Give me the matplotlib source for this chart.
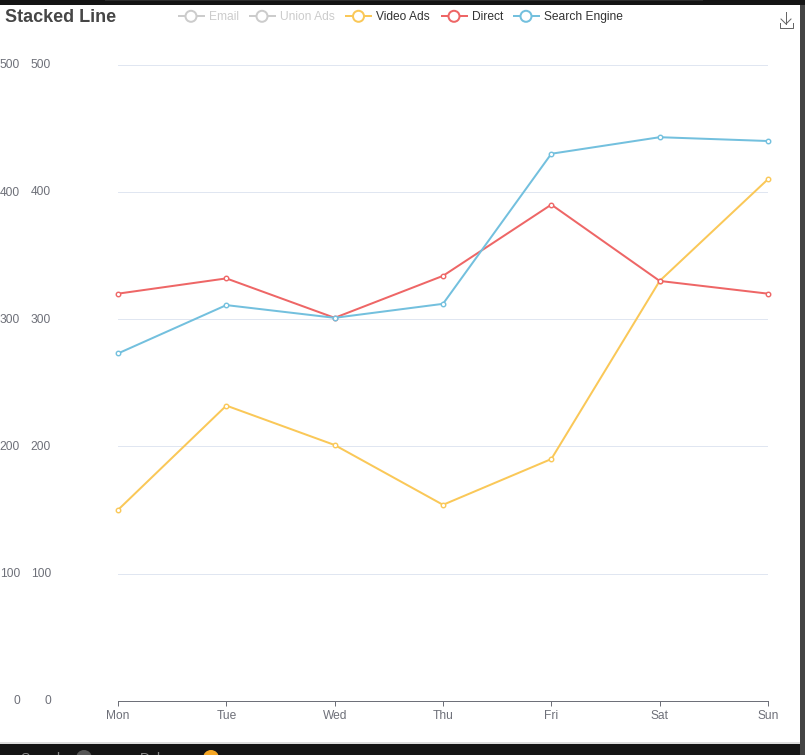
import matplotlib
matplotlib.use("Agg")
import matplotlib.pyplot as plt
from matplotlib.patches import Rectangle, Circle
from matplotlib.transforms import ScaledTranslation

days = ["Mon", "Tue", "Wed", "Thu", "Fri", "Sat", "Sun"]
video_ads = [150, 232, 201, 154, 190, 330, 410]
direct = [320, 332, 301, 334, 390, 330, 320]
search_engine = [273, 311, 301, 312, 430, 443, 440]
y_ticks = [0, 100, 200, 300, 400, 500]

plt.rcParams['font.family'] = ['Liberation Sans', 'DejaVu Sans']

W, H = 805, 755
PX = 0.72  # points per pixel at dpi 100
fig = plt.figure(figsize=(W / 100, H / 100), dpi=100, facecolor='#141414')

# white panel behind the chart
bg = fig.add_axes([0, 0, 1, 1])
bg.set_xlim(0, W)
bg.set_ylim(H, 0)
bg.axis('off')
bg.add_patch(Rectangle((800, 5), 5, H, color='#444444', lw=0))
bg.add_patch(Rectangle((105, 0), 598, 1, color='#2c2c2c', lw=0))
bg.add_patch(Rectangle((0, 5), 800, 738, color='white', lw=0))
bg.add_patch(Rectangle((0, 742), 800, 1.5, color='#dddddd', lw=0))

ax = fig.add_axes([118 / W, 1 - 700.7 / H, 650 / W, 636 / H])
ax.patch.set_alpha(0)
ax.set_xlim(0, 6)
ax.set_ylim(0, 500)
ax.set_yticks(y_ticks)
ax.set_xticks(range(len(days)))
ax.set_xticklabels(days)
ax.grid(axis='y', color='#e0e6f1', lw=PX)
ax.set_axisbelow(True)
for side in ['top', 'left', 'right']:
    ax.spines[side].set_visible(False)
ax.spines['bottom'].set_color('#6e7079')
ax.spines['bottom'].set_linewidth(PX)
ax.tick_params(axis='x', length=5 * PX, width=PX, color='#6e7079', labelcolor='#6e7079',
               labelsize=12 * PX, pad=3.2)
ax.tick_params(axis='y', length=0, labelcolor='#6e7079', labelsize=12 * PX, pad=67 * PX)

# nudge the inner y labels up to sit level with the outer ones
nudge = ScaledTranslation(0, 1 / 100, fig.dpi_scale_trans)
for label in ax.get_yticklabels():
    label.set_transform(label.get_transform() + nudge)

series = [(video_ads, '#fac858'), (direct, '#ee6666'), (search_engine, '#73c0de')]
for values, color in series:
    ax.plot(range(len(days)), values, color=color, lw=2 * PX, marker='o', ms=4.5 * PX,
            mfc='white', mec=color, mew=1.4 * PX, clip_on=False, zorder=3)

# second copy of the y labels further left
for v in y_ticks:
    bg.text(20, 701.5 - v * 1.272, str(v), color='#6e7079', fontsize=12 * PX, ha='right', va='center')

bg.text(5, 18, "Stacked Line", color='#464646', fontsize=18 * PX, fontweight='bold', va='center')

# legend drawn by hand, the first two entries are switched off
legend = [("Email", 191, '#cccccc', '#cccccc'), ("Union Ads", 262, '#cccccc', '#cccccc'),
          ("Video Ads", 358.5, '#fac858', '#333333'), ("Direct", 454, '#ee6666', '#333333'),
          ("Search Engine", 526, '#73c0de', '#333333')]
for name, cx, color, text_color in legend:
    bg.plot([cx - 12.5, cx + 12.5], [16.3, 16.3], color=color, lw=2 * PX, zorder=2)
    bg.add_patch(Circle((cx, 16.3), 5.5, fc='white', ec=color, lw=2 * PX, zorder=3))
    bg.text(cx + 17.7, 20, name, color=text_color, fontsize=12 * PX, va='baseline')

# download icon in the toolbox corner
bg.plot([786, 786], [12, 24], color='#666666', lw=PX)
bg.plot([781, 786, 791], [19, 24, 19], color='#666666', lw=PX)
bg.plot([779.5, 779.5, 792.5, 792.5], [23, 27.5, 27.5, 23], color='#666666', lw=PX)

# controls of the host page, cut off by the lower edge
bg.text(20, 759, "Sample", color='#888888', fontsize=14 * PX, va='center', clip_on=True)
bg.text(140, 759, "Debug", color='#888888', fontsize=14 * PX, va='center', clip_on=True)
bg.add_patch(Circle((84, 758), 8, color='#555555', lw=0))
bg.add_patch(Circle((211, 758), 8, color='#f5a623', lw=0))

fig.savefig("out.png", dpi=100, facecolor=fig.get_facecolor())
